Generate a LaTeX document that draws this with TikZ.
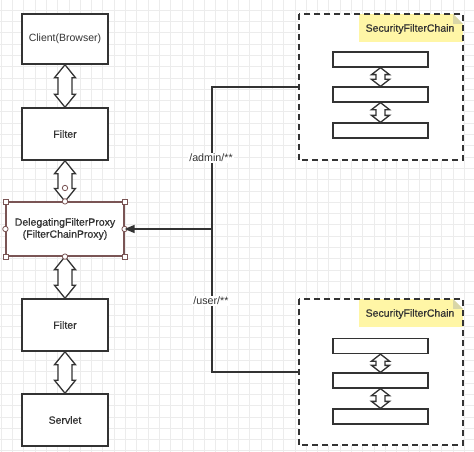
\documentclass[tikz,border=0pt]{standalone}
\usepackage{fontspec}
\setmainfont{Liberation Sans}
\newfontfamily\medfont[FakeBold=0.6]{Liberation Sans}
\usetikzlibrary{calc,arrows.meta,positioning}

\definecolor{linegray}{HTML}{333333}
\definecolor{handle}{HTML}{7A5555}
\definecolor{notefill}{HTML}{FFF6A6}
\definecolor{notefold}{HTML}{D9D6A8}

\begin{document}
\begin{tikzpicture}[x=1pt,y=-1pt,
    box/.style={draw=linegray, line width=1.5pt, fill=white, minimum width=86pt,
      minimum height=52pt, inner sep=0pt, text=linegray, font=\medfont\fontsize{10.5}{12}\selectfont},
    chainbox/.style={fill=white, minimum width=164pt, minimum height=146pt, inner sep=0pt},
    slot/.style={draw=linegray, line width=1.3pt, fill=white, minimum width=95pt,
      minimum height=15pt, inner sep=0pt},
    note/.style={fill=notefill, minimum width=104pt, minimum height=28pt, inner sep=0pt},
    fatarrow/.style n args={3}{draw=linegray, line width=1.3pt, fill=white,
      to path={let \p1=(\tikztostart), \p2=(\tikztotarget) in
        (\x1,\y1) -- (\x1+#1,\y1-#3) -- (\x1+#2,\y1-#3) -- (\x1+#2,\y2+#3)
        -- (\x1+#1,\y2+#3) -- (\x1,\y2) -- (\x1-#1,\y2+#3) -- (\x1-#2,\y2+#3)
        -- (\x1-#2,\y1-#3) -- (\x1-#1,\y1-#3) -- cycle}},
    path label/.style={fill=white, inner sep=1pt, text=linegray, font=\fontsize{10.7}{12}\selectfont}]

  \useasboundingbox (0,0) rectangle (474,452);
  \fill[white] (0,0) rectangle (474,452);

  % grid
  \foreach \gx in {1,12.3,...,474} \draw[gray!15, line width=0.5pt] (\gx,0) -- (\gx,452);
  \foreach \gy in {-1.3,10,...,452} \draw[gray!15, line width=0.5pt] (0,\gy) -- (474,\gy);

  % left column
  \node[box, minimum height=50pt, font=\fontsize{10.5}{12}\selectfont] (client) at (65,39) {Client(Browser)};
  \node[box] (filter1) at (65,134) {Filter};
  \node[box, draw=handle, line width=1.2pt, minimum width=118pt, minimum height=54pt,
    align=center, font=\medfont\fontsize{10.5}{12}\selectfont] (proxy) at (65,229)
    {DelegatingFilterProxy\\(FilterChainProxy)};
  \node[box] (filter2) at (65,325) {Filter};
  \node[box] (servlet) at (65,420) {Servlet};

  \path[fatarrow={10.5pt}{7pt}{13pt}] (client.south) to (filter1.north);
  \path[fatarrow={10.5pt}{7pt}{13pt}] (filter1.south) to (proxy.north);
  \path[fatarrow={10.5pt}{7pt}{13pt}] (proxy.south) to (filter2.north);
  \path[fatarrow={10.5pt}{7pt}{13pt}] (filter2.south) to (servlet.north);

  % selection handles
  \foreach \a in {north west,north east,south west,south east}
    \draw[handle, fill=white, line width=0.8pt] ($(proxy.\a)+(-2.5,-2.5)$) rectangle ++(5,5);
  \foreach \a in {north,south,east,west}
    \draw[handle, fill=white, line width=0.8pt] (proxy.\a) circle (2.7);
  \draw[handle, fill=white, line width=0.8pt] (65,188) circle (2.7);

  % security filter chains
  \foreach \c/\cy in {chain1/87,chain2/372} {
    \node[chainbox] (\c) at (381,\cy) {};
    \node[note, anchor=north east] (\c note) at (\c.north east) {};
    \fill[notefold] ($(\c note.north east)+(-10,0)$) -- ($(\c note.north east)+(0,10)$)
      -- ($(\c note.north east)+(-10,10)$) -- cycle;
    \fill[white] ($(\c note.north east)+(-10,0)$) -- ($(\c note.north east)+(0,10)$)
      -- (\c note.north east) -- cycle;
    \node[text=linegray, font=\medfont\fontsize{10.5}{12}\selectfont] at ($(\c note.center)+(-1,1)$) {SecurityFilterChain};
    \draw[linegray, line width=1.5pt, dash pattern=on 6pt off 4pt]
      (\c.north west) rectangle (\c.south east);
  }

  \node[slot] (s11) at (380.5,59.5) {};
  \node[slot] (s12) at (380.5,94.5) {};
  \node[slot] (s13) at (380.5,130.5) {};
  \node[slot] (s21) at (380.5,346) {};
  \node[slot] (s22) at (380.5,380.5) {};
  \node[slot] (s23) at (380.5,416.5) {};

  \path[fatarrow={9pt}{4.5pt}{7pt}] (s11.south) to (s12.north);
  \path[fatarrow={9pt}{4.5pt}{7pt}] (s12.south) to (s13.north);
  \path[fatarrow={9pt}{4.5pt}{7pt}] (s21.south) to (s22.north);
  \path[fatarrow={9pt}{4.5pt}{7pt}] (s22.south) to (s23.north);

  % routing
  \coordinate (junction) at (212,229);
  \draw[linegray, line width=1.5pt] (chain1.west) -| (junction);
  \draw[linegray, line width=1.5pt] (chain2.west) -| (junction);
  \draw[linegray, line width=1.5pt, -{Triangle[length=10pt,width=8pt]}] (junction) -- (proxy.east);
  \node[path label] (admin) at (211,158) {/admin/**};
  \node[path label] (user) at (211,301) {/user/**};

\end{tikzpicture}
\end{document}
